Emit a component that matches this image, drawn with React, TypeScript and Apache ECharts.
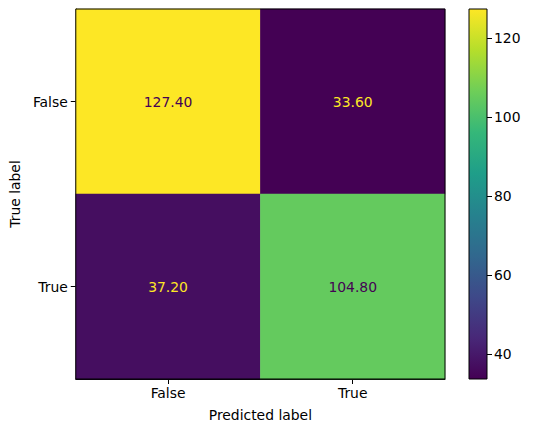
import React, { useEffect, useRef } from 'react';
import * as echarts from 'echarts';

const predictedLabels = ['False', 'True'];
const trueLabels = ['False', 'True'];
// [predictedIndex, trueIndex, value]
const cellValues: [number, number, number][] = [
  [0, 0, 127.4],
  [1, 0, 33.6],
  [0, 1, 37.2],
  [1, 1, 104.8],
];
const colorbarTicks = [40, 60, 80, 100, 120];

const viridis = [
  '#440154', '#482878', '#3e4989', '#31688e', '#26828e',
  '#1f9e89', '#35b779', '#6ece58', '#b5de2b', '#fde725',
];

const vMin = Math.min(...cellValues.map((d) => d[2]));
const vMax = Math.max(...cellValues.map((d) => d[2]));
const FONT = 'DejaVu Sans';

const App: React.FC = () => {
  const chartRef = useRef<HTMLDivElement>(null);

  useEffect(() => {
    if (!chartRef.current) return;
    const chart = echarts.init(chartRef.current, null, { renderer: 'svg' });

    const mid = (vMin + vMax) / 2;
    const n = viridis.length;
    // top of colorbar = yellow, bottom = purple
    const gradStops = viridis.map((_, i) => ({ offset: i / (n - 1), color: viridis[n - 1 - i] }));

    const option: echarts.EChartsOption = {
      animation: false,
      backgroundColor: '#fff',
      textStyle: { fontFamily: FONT },
      grid: [
        { left: 74, top: 9, width: 371, height: 370, show: true, borderColor: '#000', borderWidth: 1, backgroundColor: 'transparent', z: 3 },
        { left: 469, top: 9, width: 18, height: 370, show: true, borderColor: '#000', borderWidth: 1, backgroundColor: 'transparent', z: 3 },
      ],
      xAxis: [
        {
          type: 'category',
          gridIndex: 0,
          data: predictedLabels,
          position: 'bottom',
          name: 'Predicted label',
          nameLocation: 'middle',
          nameGap: 29,
          nameTextStyle: { fontSize: 13.9, color: '#000', fontFamily: FONT },
          axisLine: { show: true, lineStyle: { color: '#000', width: 1 } },
          axisTick: { show: true, alignWithLabel: true, length: 5, lineStyle: { color: '#000' } },
          axisLabel: { fontSize: 13.9, color: '#000', margin: 7, fontFamily: FONT },
          splitLine: { show: false },
        },
        {
          type: 'category',
          gridIndex: 1,
          data: [''],
          show: false,
        },
      ],
      yAxis: [
        {
          type: 'category',
          gridIndex: 0,
          data: trueLabels,
          inverse: true,
          name: 'True label',
          nameLocation: 'middle',
          nameRotate: 90,
          nameGap: 52,
          nameTextStyle: { fontSize: 13.9, color: '#000', fontFamily: FONT },
          axisLine: { show: true, lineStyle: { color: '#000', width: 1 } },
          axisTick: { show: true, alignWithLabel: true, length: 5, lineStyle: { color: '#000' } },
          axisLabel: { fontSize: 13.9, color: '#000', margin: 8, fontFamily: FONT },
          splitLine: { show: false },
        },
        {
          type: 'value',
          gridIndex: 1,
          position: 'right',
          min: vMin,
          max: vMax,
          axisLine: { show: false },
          axisTick: { show: true, inside: false, length: 5, lineStyle: { color: '#000' }, customValues: colorbarTicks },
          axisLabel: { fontSize: 13.9, color: '#000', margin: 7, fontFamily: FONT, customValues: colorbarTicks },
          splitLine: { show: false },
        },
      ],
      visualMap: {
        show: false,
        type: 'continuous',
        seriesIndex: 0,
        min: vMin,
        max: vMax,
        inRange: { color: viridis },
      },
      graphic: [
        {
          type: 'rect',
          z: 1,
          shape: { x: 469, y: 9, width: 18, height: 370 },
          style: {
            fill: {
              type: 'linear',
              x: 0,
              y: 0,
              x2: 0,
              y2: 1,
              colorStops: gradStops,
            } as any,
          },
        },
      ],
      series: [
        {
          type: 'heatmap',
          xAxisIndex: 0,
          yAxisIndex: 0,
          data: cellValues.map((d) => ({
            value: d,
            label: { color: d[2] > mid ? '#440154' : '#fde725' },
          })),
          label: {
            show: true,
            fontSize: 13.9,
            fontFamily: FONT,
            formatter: (p: any) => (p.value[2] as number).toFixed(2),
          },
          itemStyle: { borderWidth: 0 },
          emphasis: { disabled: true },
        } as any,
      ],
    };

    chart.setOption(option);
    return () => {
      chart.dispose();
    };
  }, []);

  return (
    <div
      ref={chartRef}
      style={{ position: 'fixed', left: 0, top: 0, width: 533, height: 432 }}
    />
  );
};

export default App;
